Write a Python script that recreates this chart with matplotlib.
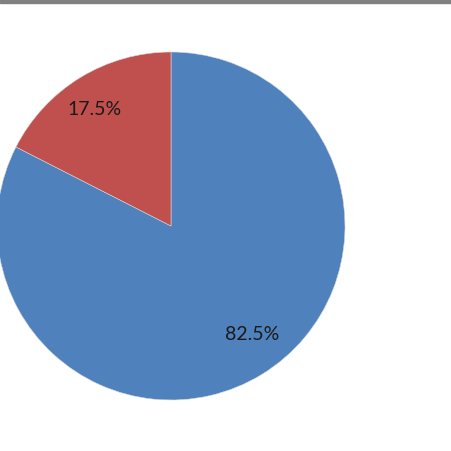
import matplotlib.pyplot as plt
from matplotlib.patches import Rectangle

labels = ['Blue', 'Red']
shares = [82.5, 17.5]
colors = ['#4F81BD', '#C0504D']


def main():
	fig = plt.figure(figsize=(4.51, 4.51), dpi=100)
	ax = fig.add_axes([0, 0, 1, 1])

	cx, cy, r = 171, 225, 174
	wedges, texts, autotexts = ax.pie(
		shares, colors=colors, startangle=90, counterclock=False,
		center=(cx, cy), radius=r, frame=True,
		autopct='%.1f%%', pctdistance=0.79,
		wedgeprops={'edgecolor': '#d8d8d8', 'linewidth': 0.4},
		textprops={'fontsize': 14, 'family': ['Lato', 'DejaVu Sans'], 'color': '#1a1a1a'})
	ax.set_xlim(0, 451)
	ax.set_ylim(0, 451)
	ax.axis('off')

	#excel puts the labels a bit off the bisector
	label_pos = [(0.466, -0.621), (-0.437, 0.667)]
	for t, (dx, dy) in zip(autotexts, label_pos):
		t.set_position((cx + dx * r, cy + dy * r))

	#top border line
	fig.patches.append(Rectangle((0, 448 / 451), 1, 3 / 451, transform=fig.transFigure,
		color='#808080', zorder=5))

	fig.savefig('out.png', dpi=100)


if __name__ == '__main__':
	main()
